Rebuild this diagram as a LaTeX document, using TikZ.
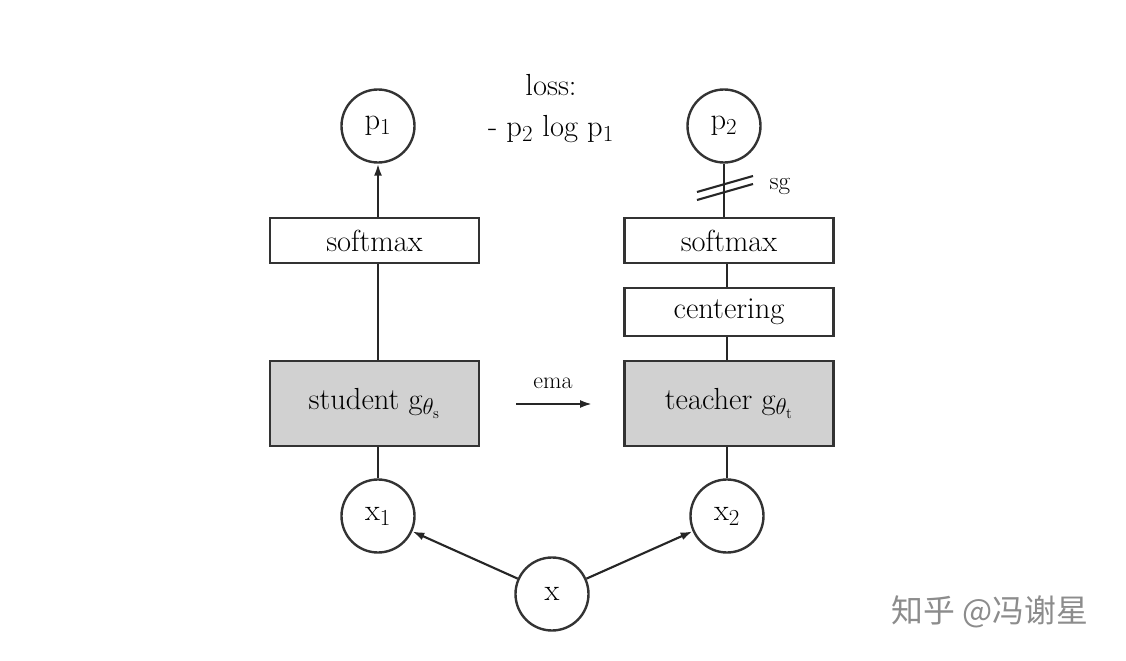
\documentclass[tikz,border=0pt]{standalone}
\usepackage{fontspec}
\usetikzlibrary{arrows.meta}
\newfontfamily\cjk{Noto Sans CJK SC}
\begin{document}
\begin{tikzpicture}[x=0.0265cm,y=-0.0265cm,
  big/.style={font=\fontsize{23}{27}\selectfont},
  circ/.style={draw=black!80,line width=1.8pt,circle,minimum size=73*0.0265cm,inner sep=0pt,big},
  box/.style={draw=black!80,line width=2.2pt,minimum width=209*0.0265cm,inner sep=0pt,big},
  ln/.style={draw=black!85,line width=1.6pt},
  arr/.style={ln,-{Latex[length=9pt,width=6pt]}}]
\useasboundingbox (0,0) rectangle (1126,661);
\node[circ] (p1) at (378,126) {p$_1$};
\node[circ] (p2) at (724,126) {p$_2$};
\node[big] (l1) at (551,85) {loss:};
\node[big] (l2) at (551,129) {- p$_2$ log p$_1$};
\node[box,minimum height=45*0.0265cm] (s1) at (374.5,240.5) {softmax};
\node[box,minimum height=45*0.0265cm] (s2) at (729,240.5) {softmax};
\node[box,minimum height=48*0.0265cm] (c) at (729,312) {centering};
\node[box,minimum height=85*0.0265cm,fill=black!18] (st) at (374.5,403.5) {student g$_{\theta_{\mathrm s}}$};
\node[box,minimum height=85*0.0265cm,fill=black!18] (te) at (729,403.5) {teacher g$_{\theta_{\mathrm t}}$};
\node[circ] (x1) at (378,516) {x$_1$};
\node[circ] (x2) at (727,516) {x$_2$};
\node[circ] (x) at (552,594) {x};
\draw[arr] (x) -- (x1);
\draw[arr] (x) -- (x2);
\draw[ln] (st.south -| x1) -- (x1);
\draw[ln] (te.south -| x2) -- (x2);
\draw[ln] (st.north -| p1) -- (s1.south -| p1);
\draw[arr] (s1.north -| p1) -- (p1);
\draw[ln] (te.north -| 727,0) -- (c.south -| 727,0);
\draw[ln] (c.north -| 727,0) -- (s2.south -| 727,0);
\draw[ln] (s2.north -| p2) -- (p2);
\draw[ln] (697,192) -- (753,176);
\draw[ln] (697,200) -- (753,184);
\node[font=\fontsize{19}{22}\selectfont] (sg) at (780,186) {sg};
\coordinate (ea) at (516,404);
\coordinate (eb) at (592,404);
\draw[arr] (ea) -- (eb);
\node[font=\fontsize{18}{21}\selectfont] (ema) at (553,383) {ema};
\node[font=\cjk\fontsize{24}{28}\selectfont,text=black!45] (wm) at (990,612) {知乎 @冯谢星};
\end{tikzpicture}
\end{document}
